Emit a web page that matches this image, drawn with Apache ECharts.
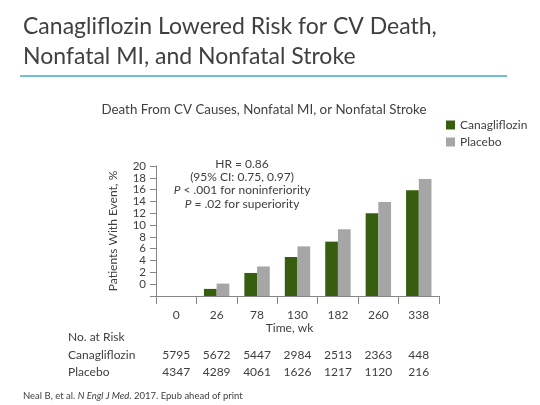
<!DOCTYPE html>
<html>
<head>
<meta charset="utf-8">
<style>
  html, body { margin: 0; padding: 0; background: #fff; }
  #chart { width: 540px; height: 405px; }
</style>
<script src="https://cdn.jsdelivr.net/npm/echarts@6/dist/echarts.min.js"></script>
</head>
<body>
<div id="chart"></div>
<script>
// weeks on the x axis
var weeks = ['0', '26', '78', '130', '182', '260', '338'];
// bar heights, measured from the baseline
var canaPct = [0, 1.2, 3.9, 6.6, 9.2, 14.0, 17.9];
var placeboPct = [0, 2.1, 5.0, 8.4, 11.3, 15.9, 19.8];
// number at risk table
var canaAtRisk = ['5795', '5672', '5447', '2984', '2513', '2363', '448'];
var placeboAtRisk = ['4347', '4289', '4061', '1626', '1217', '1120', '216'];
// y tick labels as printed (they sit one step off the ticks in the original)
var yTickLabels = ['', '0', '2', '4', '6', '8', '10', '12', '14', '16', '18', '20'];

var FONT = 'Lato';
var TXT = '#404040';
var AXIS = '#868686';

var chart = echarts.init(document.getElementById('chart'));

var option = {
    animation: false,
    textStyle: { fontFamily: FONT },
    legend: {
        data: ['Canagliflozin', 'Placebo'],
        orient: 'vertical',
        left: 446,
        top: 119,
        padding: 0,
        icon: 'rect',
        itemWidth: 9,
        itemHeight: 9,
        itemGap: 5,
        textStyle: { fontFamily: FONT, fontSize: 12, color: TXT }
    },
    grid: { left: 156, top: 166, width: 283, height: 130, containLabel: false },
    xAxis: [
        {
            type: 'category',
            data: weeks,
            boundaryGap: true,
            axisLine: { show: true, lineStyle: { color: AXIS, width: 1 } },
            axisTick: { show: true, length: 8, lineStyle: { color: AXIS } },
            axisLabel: { margin: 13, fontSize: 12, color: TXT, fontFamily: FONT, interval: 0 },
            name: 'Time, wk',
            nameLocation: 'middle',
            nameGap: 24,
            nameTextStyle: { fontSize: 12, color: TXT, fontFamily: FONT, padding: [0, 16, 0, 0] }
        },
        {
            // Canagliflozin at-risk row
            type: 'category',
            data: canaAtRisk,
            position: 'bottom',
            axisLine: { show: false },
            axisTick: { show: false },
            axisLabel: { margin: 53, fontSize: 12, color: TXT, fontFamily: FONT, interval: 0 }
        },
        {
            // Placebo at-risk row
            type: 'category',
            data: placeboAtRisk,
            position: 'bottom',
            axisLine: { show: false },
            axisTick: { show: false },
            axisLabel: { margin: 70, fontSize: 12, color: TXT, fontFamily: FONT, interval: 0 }
        }
    ],
    yAxis: {
        type: 'value',
        min: 0,
        max: 22,
        interval: 2,
        splitLine: { show: false },
        axisLine: { show: true, lineStyle: { color: AXIS, width: 1 } },
        axisTick: { show: true, length: 6, lineStyle: { color: AXIS } },
        axisLabel: {
            margin: 10,
            fontSize: 11.5,
            color: TXT,
            fontFamily: FONT,
            showMinLabel: true,
            showMaxLabel: true,
            formatter: function (v) { return yTickLabels[Math.round(v / 2)]; }
        },
        name: 'Patients With Event, %',
        nameLocation: 'middle',
        nameGap: 37,
        nameTextStyle: { fontSize: 12, color: TXT, fontFamily: FONT }
    },
    series: [
        {
            name: 'Canagliflozin',
            type: 'bar',
            data: canaPct,
            barWidth: 12.7,
            barGap: '0%',
            itemStyle: { color: '#375e0f' }
        },
        {
            name: 'Placebo',
            type: 'bar',
            data: placeboPct,
            barWidth: 12.7,
            barGap: '0%',
            itemStyle: { color: '#a6a6a6' }
        }
    ],
    graphic: [
        {
            type: 'text', left: 23, top: 12,
            style: {
                text: 'Canagliflozin Lowered Risk for CV Death,\nNonfatal MI, and Nonfatal Stroke',
                font: '23px Lato', fill: TXT, lineHeight: 30
            }
        },
        {
            type: 'line',
            shape: { x1: 20, y1: 76, x2: 507, y2: 76 },
            style: { stroke: '#43a9c4', lineWidth: 1.5 }
        },
        {
            type: 'text', x: 264, y: 110,
            style: {
                text: 'Death From CV Causes, Nonfatal MI, or Nonfatal Stroke',
                font: '13.3px Lato', fill: TXT, textAlign: 'center', textVerticalAlign: 'middle'
            }
        },
        {
            type: 'text', x: 242, y: 157,
            style: {
                text: 'HR = 0.86\n(95% CI: 0.75, 0.97)\n{i|P} < .001 for noninferiority\n{i|P} = .02 for superiority',
                font: '12px Lato', fill: TXT, textAlign: 'center', lineHeight: 13.4,
                rich: { i: { fontStyle: 'italic', fontSize: 12, fontFamily: FONT, fill: TXT } }
            }
        },
        {
            type: 'text', x: 68, y: 337,
            style: { text: 'No. at Risk', font: '12px Lato', fill: TXT, textVerticalAlign: 'middle' }
        },
        {
            type: 'text', x: 68, y: 355,
            style: { text: 'Canagliflozin', font: '12px Lato', fill: TXT, textVerticalAlign: 'middle' }
        },
        {
            type: 'text', x: 68, y: 372,
            style: { text: 'Placebo', font: '12px Lato', fill: TXT, textVerticalAlign: 'middle' }
        },
        {
            type: 'text', x: 23, y: 396,
            style: {
                text: 'Neal B, et al. {i|N Engl J Med}. 2017. Epub ahead of print',
                font: '9.5px Lato', fill: TXT, textVerticalAlign: 'middle',
                rich: { i: { fontStyle: 'italic', fontSize: 9.5, fontFamily: FONT, fill: TXT } }
            }
        }
    ]
};

chart.setOption(option);
</script>
</body>
</html>
